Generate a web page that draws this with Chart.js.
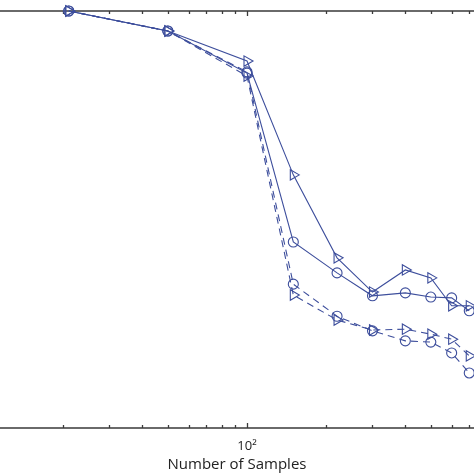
<!DOCTYPE html>
<html>
<head>
<meta charset="utf-8">
<script src="https://cdn.jsdelivr.net/npm/chart.js@4"></script>
<style>
  html, body { margin: 0; padding: 0; background: #fff; }
  #box { width: 474px; height: 474px; }
</style>
</head>
<body>
<div id="box"><canvas id="grafico"></canvas></div>
<script>
// number of samples (x) and the four curves (y, no scale shown in the figure, read as 0..1)
const amostras = [21, 50, 100, 150, 220, 300, 400, 500, 600, 700];
const trianguloCheio = [1.0, 0.952, 0.880, 0.607, 0.408, 0.326, 0.379, 0.360, 0.293, 0.293];
const circuloCheio = [1.0, 0.952, 0.851, 0.446, 0.372, 0.317, 0.324, 0.314, 0.312, 0.281];
const trianguloTracejado = [1.0, 0.952, 0.844, 0.319, 0.259, 0.235, 0.237, 0.225, 0.213, 0.173];
const circuloTracejado = [1.0, 0.952, 0.854, 0.345, 0.268, 0.233, 0.209, 0.206, 0.180, 0.132];

// tick marks on the log axis
const xTicks = [20, 30, 40, 50, 60, 70, 80, 90, 100, 200, 300, 400, 500, 600, 700];

const azul = '#3d4e9c';

function pares(ys) {
    return amostras.map((x, i) => ({x: x, y: ys[i]}));
}

function serie(nome, ys, estilo, tracejado) {
    return {
        label: nome,
        data: pares(ys),
        borderColor: azul,
        backgroundColor: 'transparent',
        borderWidth: 1.1,
        borderDash: tracejado ? [7, 5] : [],
        pointStyle: estilo,
        pointRotation: estilo == 'triangle' ? 90 : 0,
        pointRadius: estilo == 'triangle' ? 6 : 5,
        pointBorderWidth: 1.1,
        pointBorderColor: azul,
        pointBackgroundColor: 'transparent',
        tension: 0,
        clip: false
    };
}

// frame lines and inward ticks (top and bottom)
const moldura = {
    id: 'moldura',
    beforeDatasetsDraw(chart) {
        const {ctx, chartArea: a, scales: {x}} = chart;
        ctx.save();
        ctx.strokeStyle = '#3a3a3a';
        ctx.lineWidth = 1.3;
        ctx.beginPath();
        ctx.moveTo(a.left, a.top);
        ctx.lineTo(a.right, a.top);
        ctx.moveTo(a.left, a.bottom);
        ctx.lineTo(a.right, a.bottom);
        x.ticks.forEach(t => {
            const px = Math.round(x.getPixelForValue(t.value)) + 0.5;
            const len = t.value == 100 ? 5 : 3;
            ctx.moveTo(px, a.bottom);
            ctx.lineTo(px, a.bottom - len);
            ctx.moveTo(px, a.top);
            ctx.lineTo(px, a.top + len);
        });
        ctx.stroke();
        ctx.restore();
    }
};

const pxPorDecada = 263;
const xMin = Math.pow(10, 2 - 247 / pxPorDecada);
const xMax = Math.pow(10, 2 + 227 / pxPorDecada);

new Chart(document.getElementById('grafico'), {
    type: 'line',
    data: {
        datasets: [
            serie('triangulo', trianguloCheio, 'triangle', false),
            serie('circulo', circuloCheio, 'circle', false),
            serie('triangulo tracejado', trianguloTracejado, 'triangle', true),
            serie('circulo tracejado', circuloTracejado, 'circle', true)
        ]
    },
    plugins: [moldura],
    options: {
        responsive: true,
        maintainAspectRatio: false,
        animation: false,
        layout: {autoPadding: false, padding: {top: 11, left: 0, right: 0, bottom: 0}},
        plugins: {
            legend: {display: false},
            tooltip: {enabled: false}
        },
        scales: {
            x: {
                type: 'logarithmic',
                min: xMin,
                max: xMax,
                afterBuildTicks: s => { s.ticks = xTicks.map(v => ({value: v})); },
                afterFit: s => {
                    s.height = 46;
                    s.paddingLeft = 0;
                    s.paddingRight = 0;
                },
                grid: {display: false, drawTicks: false, tickLength: 0},
                border: {display: false},
                ticks: {
                    autoSkip: false,
                    maxRotation: 0,
                    padding: 10,
                    color: '#222',
                    font: {family: 'Open Sans', size: 13},
                    callback: v => v == 100 ? '10²' : ''
                },
                title: {
                    display: true,
                    text: 'Number of Samples',
                    color: '#222',
                    font: {family: 'Open Sans', size: 15},
                    padding: {top: 2, bottom: 0}
                }
            },
            y: {
                display: false,
                min: 0,
                max: 1
            }
        }
    }
});
</script>
</body>
</html>
